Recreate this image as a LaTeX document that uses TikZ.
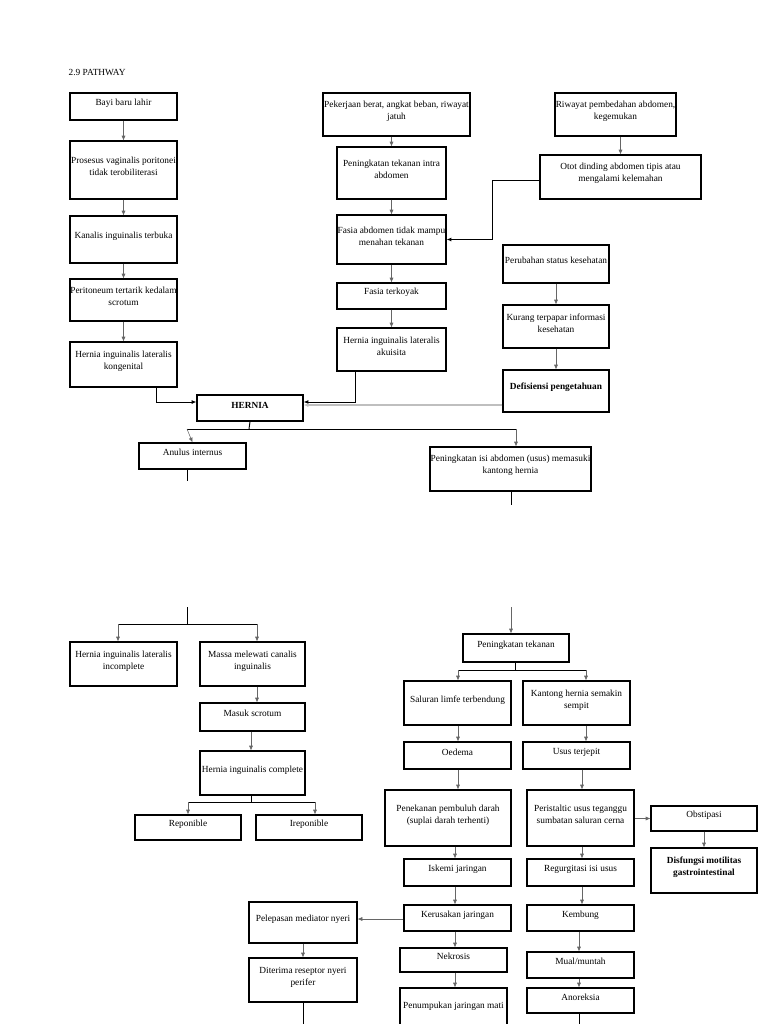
\documentclass[tikz,border=0pt]{standalone}
\usepackage{fontspec}
\setmainfont{Liberation Serif}
\usetikzlibrary{arrows.meta,fit,calc}
\tikzset{
 box/.style={draw, line width=0.9pt, inner sep=0pt, align=center, font=\fontsize{7}{9}\selectfont},
 arr/.style={draw=black!60, line width=0.4pt, -{Latex[length=3.5pt,width=3pt]}},
 ln/.style={draw=black, line width=0.7pt},
}
\newcommand\bx[6]{\pgfmathsetmacro\bw{(#4-#2)*0.75-5}\node[box,text width=\bw pt,fit={(#2,#3)(#4,#5)}] (#1) {#6};}
\begin{document}
\begin{tikzpicture}[x=0.75pt,y=-0.75pt]
\useasboundingbox (0,0) rectangle (768,1024);
\node[anchor=west,font=\fontsize{7}{9}\selectfont] (title) at (64,72) {2.9 PATHWAY};
% left column
\bx{bayi}{70}{93}{177}{120}{Bayi baru lahir\\[6pt]}
\bx{pros}{70}{141}{177}{199}{Prosesus vaginalis poritonei tidak terobiliterasi}
\bx{kan}{70}{216}{177}{263}{Kanalis inguinalis terbuka\\[6pt]}
\bx{peri}{70}{279}{177}{321}{Peritoneum tertarik kedalam scrotum\\[4pt]}
\bx{kong}{70}{342}{177}{387}{Hernia inguinalis lateralis kongenital\\[4pt]}
% middle column
\bx{pek}{323}{93}{470}{136}{Pekerjaan berat, angkat beban, riwayat jatuh\\[4pt]}
\bx{pti}{337}{147}{446}{199}{Peningkatan tekanan intra abdomen\\[6pt]}
\bx{fasia}{337}{215}{446}{264}{Fasia abdomen tidak mampu menahan tekanan}
\bx{terk}{337}{283}{446}{309}{Fasia terkoyak\\[4pt]}
\bx{akui}{337}{328}{446}{371}{Hernia inguinalis lateralis akuisita\\[4pt]}
% right column
\bx{riw}{555}{93}{676}{136}{Riwayat pembedahan abdomen, kegemukan\\[4pt]}
\bx{otot}{540}{155}{701}{199}{Otot dinding abdomen tipis atau mengalami kelemahan\\[4pt]}
\bx{perub}{503}{245}{609}{283}{Perubahan status kesehatan\\[2pt]}
\bx{kur}{503}{305}{609}{348}{Kurang terpapar informasi kesehatan\\[4pt]}
\bx{def}{503}{370}{609}{412}{\textbf{Defisiensi pengetahuan}\\[4pt]}
\bx{hernia}{197}{395}{303}{421}{\textbf{HERNIA}\\[4pt]}
\bx{anul}{139}{443}{246}{469}{Anulus internus\\[4pt]}
\bx{pisi}{430}{447}{591}{491}{Peningkatan isi abdomen (usus) memasuki kantong hernia\\[4pt]}
% connectors top
\draw[arr] (bayi) -- (pros);
\draw[arr] (pros) -- (kan);
\draw[arr] (kan) -- (peri);
\draw[arr] (peri) -- (kong);
\draw[arr] (pek.south -| pti.north) -- (pti);
\draw[arr] (pti) -- (fasia);
\draw[arr] (fasia) -- (terk);
\draw[arr] (terk) -- (akui);
\draw[arr] (riw.south -| otot.north) -- (otot);
\draw[ln,-{Latex[length=3.5pt,width=3pt]}] (otot.west |- 0,180) -- (492,180) |- (fasia.east);
\draw[arr] (perub) -- (kur);
\draw[arr] (kur) -- (def);
\draw[ln,-{Latex[length=3.5pt,width=3pt]}] (156,387) |- (hernia.west |- 0,402);
\draw[ln,-{Latex[length=3.5pt,width=3pt]}] (355,371) |- (hernia.east |- 0,402);
\draw[draw=black!25,line width=0.8pt,-{Latex[length=3.5pt,width=3pt]}] (def.west |- 0,405) -- (hernia.east |- 0,405);
\coordinate (hb) at (249,429);
\draw[ln] (hernia.south) -- (hb);
\draw[ln] (187,429) -- (516,429);
\draw[arr] (187,429) -- (anul.north);
\draw[arr] (516,429) -- (pisi.north -| 516,0);
\coordinate (ae) at (187,481);
\coordinate (pe) at (511,505);
\draw[ln] (anul.south -| ae) -- (ae);
\draw[ln] (pisi.south -| pe) -- (pe);
% lower left
\bx{inc}{70}{642}{177}{686}{Hernia inguinalis lateralis incomplete\\[4pt]}
\bx{massa}{200}{642}{305}{686}{Massa melewati canalis inguinalis\\[4pt]}
\bx{masuk}{200}{703}{305}{731}{Masuk scrotum\\[4pt]}
\bx{comp}{200}{751}{305}{795}{Hernia inguinalis complete\\[4pt]}
\bx{rep}{135}{815}{241}{840}{Reponible\\[4pt]}
\bx{irep}{256}{815}{362}{840}{Ireponible\\[4pt]}
\coordinate (ls) at (187,607);
\draw[ln] (ls) -- (187,624);
\draw[ln] (118,624) -- (257,624);
\draw[arr] (118,624) -- (inc.north -| 118,0);
\draw[arr] (257,624) -- (massa.north -| 257,0);
\draw[arr] (massa.south -| 257,0) -- (masuk.north -| 257,0);
\draw[arr] (masuk.south -| 251,0) -- (comp.north -| 251,0);
\draw[ln] (comp.south -| 251,0) -- (251,802);
\draw[ln] (188,802) -- (315,802);
\draw[arr] (188,802) -- (rep.north -| 188,0);
\draw[arr] (315,802) -- (irep.north -| 315,0);
% lower right
\bx{ptek}{463}{634}{569}{662}{Peningkatan tekanan\\[6pt]}
\bx{sal}{404}{681}{511}{725}{Saluran limfe terbendung\\[4pt]}
\bx{kant}{523}{681}{630}{725}{Kantong hernia semakin sempit\\[4pt]}
\bx{oed}{404}{742}{511}{769}{Oedema\\[6pt]}
\bx{usus}{523}{742}{630}{769}{Usus terjepit\\[6pt]}
\bx{pen}{385}{790}{511}{846}{Penekanan pembuluh darah (suplai darah terhenti)\\[2pt]}
\bx{peris}{527}{790}{634}{846}{Peristaltic usus teganggu sumbatan saluran cerna\\[2pt]}
\bx{obs}{651}{806}{757}{831}{Obstipasi\\[4pt]}
\bx{dis}{651}{848}{757}{893}{\textbf{Disfungsi motilitas gastrointestinal}\\[4pt]}
\bx{isk}{404}{859}{511}{886}{Iskemi jaringan\\[4pt]}
\bx{reg}{527}{859}{634}{886}{Regurgitasi isi usus\\[4pt]}
\bx{ker}{404}{905}{511}{931}{Kerusakan jaringan\\[4pt]}
\bx{kem}{527}{905}{634}{931}{Kembung\\[4pt]}
\bx{pel}{249}{902}{357}{943}{Pelepasan mediator nyeri\\[4pt]}
\bx{dit}{249}{958}{357}{1002}{Diterima reseptor nyeri perifer\\[4pt]}
\bx{nek}{400}{948}{507}{972}{Nekrosis\\[4pt]}
\bx{mual}{527}{952}{634}{978}{Mual/muntah\\[4pt]}
\bx{per}{400}{988}{507}{1030}{Penumpukan jaringan mati\\[4pt]}
\bx{ano}{527}{988}{634}{1013}{Anoreksia\\[4pt]}
\coordinate (rs) at (511,607);
\draw[arr] (rs) -- (ptek.north -| 511,0);
\draw[ln] (ptek.south -| 515,0) -- (515,670);
\draw[ln] (458,670) -- (586,670);
\draw[arr] (458,670) -- (sal.north -| 458,0);
\draw[arr] (586,670) -- (kant.north -| 586,0);
\draw[arr] (sal.south -| 458,0) -- (oed.north -| 458,0);
\draw[arr] (kant.south -| 586,0) -- (usus.north -| 586,0);
\draw[arr] (oed.south -| 458,0) -- (pen.north -| 458,0);
\draw[arr] (usus.south -| 582,0) -- (peris.north -| 582,0);
\draw[arr] (peris.east |- obs.west) -- (obs.west);
\draw[arr] (obs) -- (dis);
\draw[arr] (pen.south -| 455,0) -- (isk.north -| 455,0);
\draw[arr] (peris.south -| 582,0) -- (reg.north -| 582,0);
\draw[arr] (isk.south -| 455,0) -- (ker.north -| 455,0);
\draw[arr] (reg.south -| 582,0) -- (kem.north -| 582,0);
\draw[arr] (ker.west |- 0,919) -- (pel.east |- 0,919);
\draw[arr] (pel) -- (dit);
\draw[arr] (ker.south -| 455,0) -- (nek.north -| 455,0);
\draw[arr] (kem.south -| 579,0) -- (mual.north -| 579,0);
\draw[arr] (nek.south -| 455,0) -- (per.north -| 455,0);
\draw[arr] (mual.south -| 579,0) -- (ano.north -| 579,0);
\coordinate (de) at (303,1024);
\coordinate (ane) at (579,1024);
\draw[ln] (dit.south -| de) -- (de);
\draw[ln] (ano.south -| ane) -- (ane);
\end{tikzpicture}
\end{document}
